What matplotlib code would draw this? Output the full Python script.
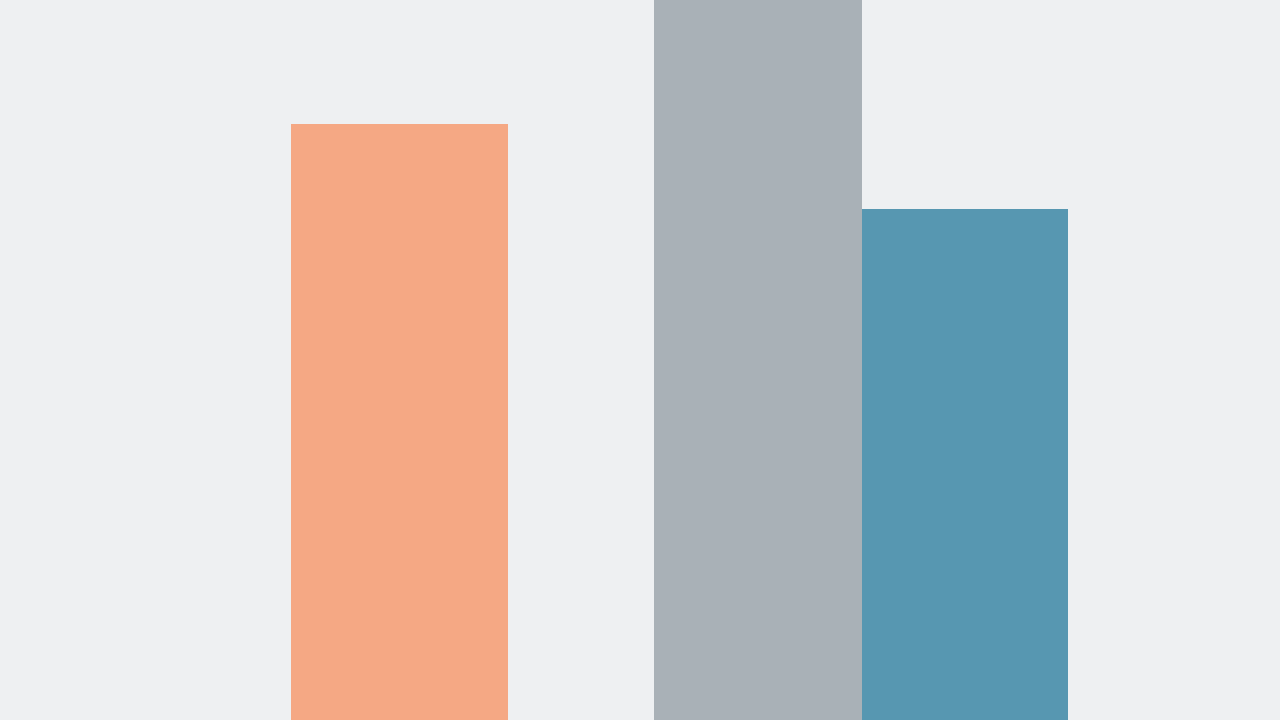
import matplotlib
matplotlib.use("Agg")
import matplotlib.pyplot as plt

# three bars, no text in the picture
labels = ["A", "B", "C"]
values = [596, 760, 511]
centers = [399.5, 758, 965]
widths = [217, 208, 206]
colors = ["#f5a884", "#a9b1b7", "#5797b1"]

fig = plt.figure(figsize=(12.8, 7.2), dpi=100)
fig.patch.set_facecolor("#eef0f2")
ax = fig.add_axes([0, 0, 1, 1])
ax.set_facecolor("#eef0f2")

ax.bar(centers, values, width=widths, color=colors, edgecolor="none")

ax.set_xlim(0, 1280)
ax.set_ylim(0, 720)
ax.axis("off")

fig.savefig("out.png", dpi=100, facecolor=fig.get_facecolor())
